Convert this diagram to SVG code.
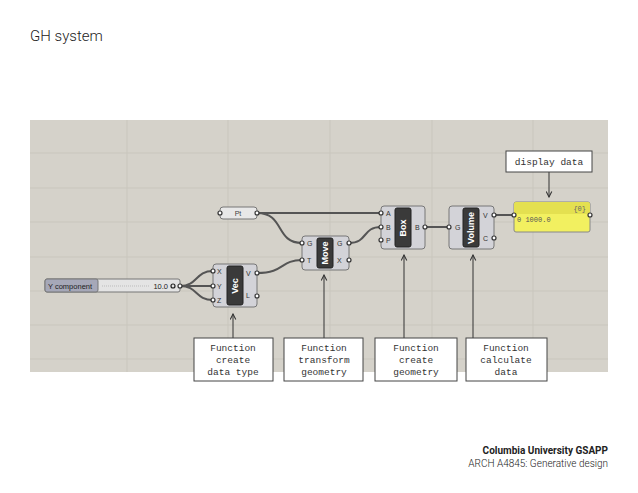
<svg xmlns="http://www.w3.org/2000/svg" width="638" height="493" viewBox="0 0 638 493">
<defs>
<style>
.grid{stroke:#c9c6bd;stroke-width:1}
.wire{fill:none;stroke:#555;stroke-width:2}
.node{fill:#d3d3d8;stroke:#777;stroke-width:1}
.core{fill:#3a3a3a;stroke:#222}
.port{font-family:"Liberation Sans",sans-serif;font-size:7px;fill:#333}
.title{font-family:"Liberation Sans",sans-serif;font-size:9px;font-weight:bold;fill:#fff}
.pc{fill:#fff;stroke:#333;stroke-width:1.2}
.note{fill:#fff;stroke:#444;stroke-width:1}
.mono{font-family:"Liberation Mono",monospace;font-size:9.5px;fill:#333;text-anchor:middle}
.arr{stroke:#333;stroke-width:1;fill:none}
</style>
<marker id="ah" viewBox="0 0 10 10" refX="9" refY="5" markerWidth="7" markerHeight="7" orient="auto"><path d="M1,1 L9,5 L1,9" fill="none" stroke="#333" stroke-width="1.5"/></marker>
</defs>
<rect width="638" height="493" fill="#fff"/>
<text x="30" y="41" font-family="Roboto,sans-serif" font-weight="300" font-size="15" fill="#222">GH system</text>
<g id="canvas">
<rect x="30" y="120" width="578" height="252" fill="#d5d2ca"/>
<g class="grid">
<line x1="127" y1="120" x2="127" y2="372"/><line x1="228" y1="120" x2="228" y2="372"/><line x1="330" y1="120" x2="330" y2="372"/><line x1="432" y1="120" x2="432" y2="372"/><line x1="533" y1="120" x2="533" y2="372"/>
<line x1="30" y1="153" x2="608" y2="153"/><line x1="30" y1="188" x2="608" y2="188"/><line x1="30" y1="222" x2="608" y2="222"/><line x1="30" y1="257" x2="608" y2="257"/><line x1="30" y1="291" x2="608" y2="291"/><line x1="30" y1="325" x2="608" y2="325"/><line x1="30" y1="359" x2="608" y2="359"/>
</g>
</g>
<g id="connectors">
<path class="wire" d="M257,213 C320,213 330,213 381,213"/>
<path class="wire" d="M257,213 C285,213 275,243 302,243"/>
<path class="wire" d="M257,273 C285,273 280,260 302,260"/>
<path class="wire" d="M349,243 C368,243 362,227 381,227"/>
<path class="wire" d="M180,286 C198,286 195,271 213,271"/>
<path class="wire" d="M180,286 L213,286"/>
<path class="wire" d="M180,286 C198,286 195,300 213,300"/>
<path class="wire" d="M425,227 L449,227"/>
<path class="wire" d="M494,215 L514,215"/>
<line class="arr" x1="233" y1="338" x2="233" y2="314" marker-end="url(#ah)"/>
<line class="arr" x1="324" y1="338" x2="324" y2="275" marker-end="url(#ah)"/>
<line class="arr" x1="404" y1="338" x2="404" y2="255" marker-end="url(#ah)"/>
<line class="arr" x1="473" y1="338" x2="473" y2="255" marker-end="url(#ah)"/>
<line class="arr" x1="549" y1="172" x2="549" y2="197" marker-end="url(#ah)"/>
</g>
<g id="pt">
<rect x="220" y="207" width="37" height="12" rx="3" fill="#e8e8e8" stroke="#777"/>
<text x="238" y="216" text-anchor="middle" font-family="Liberation Sans,sans-serif" font-size="7" fill="#444">Pt</text>
<circle class="pc" cx="220" cy="213" r="2"/><circle class="pc" cx="257" cy="213" r="2"/>
</g>
<g id="slider">
<rect x="45" y="279" width="135" height="13" rx="2" fill="#e4e4e4" stroke="#777"/>
<rect x="45" y="279" width="53" height="13" rx="2" fill="#a6a8b8" stroke="#777"/>
<text x="48" y="289" font-family="Liberation Sans,sans-serif" font-size="7.5" fill="#222">Y component</text>
<line x1="102" y1="286" x2="150" y2="286" stroke="#bbb" stroke-dasharray="1,1"/>
<text x="168" y="289" text-anchor="end" font-family="Liberation Sans,sans-serif" font-size="7.5" fill="#222">10.0</text>
<circle cx="173" cy="286" r="2" fill="none" stroke="#222" stroke-width="1.2"/>
<circle class="pc" cx="180" cy="286" r="2"/>
</g>
<g id="vec">
<rect class="node" x="213" y="264" width="44" height="43" rx="3"/>
<rect class="core" x="227" y="266" width="16" height="39" rx="2"/>
<text class="title" transform="translate(238,286) rotate(-90)" text-anchor="middle">Vec</text>
<text class="port" x="217" y="274">X</text><text class="port" x="217" y="289">Y</text><text class="port" x="217" y="303">Z</text>
<text class="port" x="246" y="276">V</text><text class="port" x="246" y="298">L</text>
<circle class="pc" cx="213" cy="271" r="2"/><circle class="pc" cx="213" cy="286" r="2"/><circle class="pc" cx="213" cy="300" r="2"/>
<circle class="pc" cx="257" cy="273" r="2"/><circle class="pc" cx="257" cy="296" r="2"/>
</g>
<g id="move">
<rect class="node" x="302" y="236" width="47" height="34" rx="3"/>
<rect class="core" x="317" y="238" width="16" height="30" rx="2"/>
<text class="title" transform="translate(328,253) rotate(-90)" text-anchor="middle">Move</text>
<text class="port" x="307" y="246">G</text><text class="port" x="307" y="263">T</text>
<text class="port" x="337" y="246">G</text><text class="port" x="337" y="263">X</text>
<circle class="pc" cx="302" cy="243" r="2"/><circle class="pc" cx="302" cy="260" r="2"/>
<circle class="pc" cx="349" cy="243" r="2"/><circle class="pc" cx="349" cy="260" r="2"/>
</g>
<g id="box">
<rect class="node" x="381" y="206" width="44" height="43" rx="3"/>
<rect class="core" x="395" y="208" width="16" height="39" rx="2"/>
<text class="title" transform="translate(406,228) rotate(-90)" text-anchor="middle">Box</text>
<text class="port" x="386" y="216">A</text><text class="port" x="386" y="230">B</text><text class="port" x="386" y="243">P</text>
<text class="port" x="415" y="230">B</text>
<circle class="pc" cx="381" cy="213" r="2"/><circle class="pc" cx="381" cy="227" r="2"/><circle class="pc" cx="381" cy="240" r="2"/>
<circle class="pc" cx="425" cy="227" r="2"/>
</g>
<g id="volume">
<rect class="node" x="449" y="206" width="45" height="43" rx="3"/>
<rect class="core" x="463" y="208" width="16" height="39" rx="2"/>
<text class="title" transform="translate(474,228) rotate(-90)" text-anchor="middle">Volume</text>
<text class="port" x="455" y="230">G</text>
<text class="port" x="483" y="218">V</text><text class="port" x="483" y="241">C</text>
<circle class="pc" cx="449" cy="227" r="2"/>
<circle class="pc" cx="494" cy="215" r="2"/><circle class="pc" cx="494" cy="238" r="2"/>
</g>
<g id="panel">
<rect x="514" y="202" width="76" height="30" rx="2" fill="#f2f060" stroke="#888"/>
<rect x="514" y="202" width="76" height="12" rx="2" fill="#e4e050"/>
<text x="586" y="211" text-anchor="end" font-family="Liberation Mono,monospace" font-size="7" fill="#666">{0}</text>
<text x="517" y="222" font-family="Liberation Mono,monospace" font-size="7" fill="#555">0 1000.0</text>
<circle class="pc" cx="514" cy="215" r="2"/><circle class="pc" cx="590" cy="215" r="2"/>
</g>
<g id="note-display">
<rect class="note" x="506" y="151" width="86" height="21"/>
<text class="mono" x="549" y="165">display data</text>
</g>
<g id="note-vec">
<rect class="note" x="194" y="338" width="79" height="43"/>
<text class="mono" x="233" y="351">Function</text><text class="mono" x="233" y="363">create</text><text class="mono" x="233" y="375">data type</text>
</g>
<g id="note-move">
<rect class="note" x="284" y="338" width="79" height="43"/>
<text class="mono" x="324" y="351">Function</text><text class="mono" x="324" y="363">transform</text><text class="mono" x="324" y="375">geometry</text>
</g>
<g id="note-box">
<rect class="note" x="375" y="338" width="82" height="43"/>
<text class="mono" x="416" y="351">Function</text><text class="mono" x="416" y="363">create</text><text class="mono" x="416" y="375">geometry</text>
</g>
<g id="note-volume">
<rect class="note" x="466" y="338" width="81" height="43"/>
<text class="mono" x="506" y="351">Function</text><text class="mono" x="506" y="363">calculate</text><text class="mono" x="506" y="375">data</text>
</g>
<text x="608" y="454" text-anchor="end" font-family="Roboto,sans-serif" font-weight="bold" font-size="10" fill="#222">Columbia University GSAPP</text>
<text x="608" y="467" text-anchor="end" font-family="Roboto,sans-serif" font-weight="300" font-size="10" fill="#222">ARCH A4845: Generative design</text>
</svg>
